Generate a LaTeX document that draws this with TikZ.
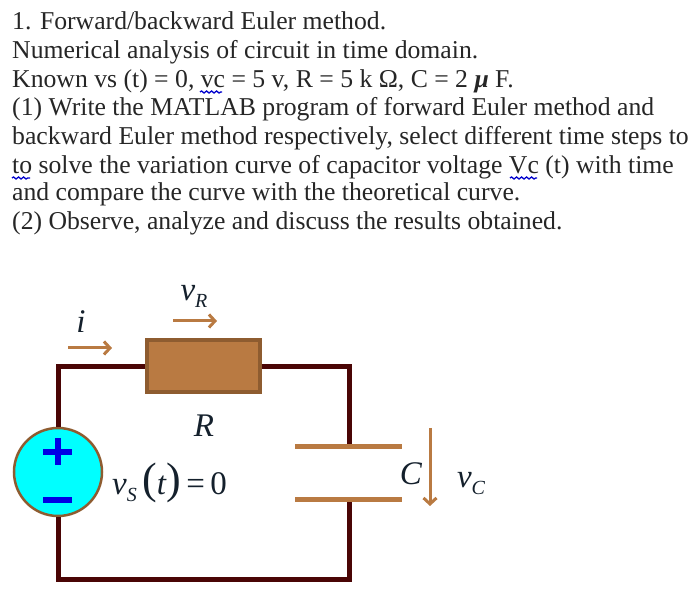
\documentclass[tikz,border=0pt]{standalone}
\usepackage{fontspec}
\usepackage{xcolor}
\setmainfont{Liberation Serif}
\usetikzlibrary{arrows.meta,decorations.pathmorphing}
\definecolor{mywire}{HTML}{4A0505}
\definecolor{mybrown}{HTML}{B97A42}
\definecolor{myedge}{HTML}{8E5C30}
\definecolor{mycyan}{HTML}{00FFFF}
\definecolor{myink}{HTML}{14202C}
\newcommand{\txtsize}{\fontsize{25.7}{29}\selectfont}
\newcommand{\lblsize}{\fontsize{33}{36}\selectfont}
\newcommand{\subsize}{\fontsize{20}{22}\selectfont}
\newcommand{\lowsub}[1]{\raisebox{-7pt}{\subsize\itshape #1}}
\newcommand{\bigparen}[1]{{\upshape\fontsize{44}{44}\selectfont\raisebox{1pt}{#1}}}
\tikzset{
  txtline/.style={anchor=base west, inner sep=0pt, font=\txtsize, text=black!85},
  lbl/.style={inner sep=0pt, font=\lblsize\itshape, text=myink},
  wire/.style={draw=mywire, line width=5pt},
  plate/.style={draw=mybrown, line width=5pt},
  flow/.style={draw=mybrown, line width=3pt, -{Straight Barb[length=6pt,width=13pt,line width=3pt]}},
  sign/.style={draw=blue!90!black, line width=6pt},
  squiggle/.style={draw=blue!80!black, line width=1.3pt, decorate, decoration={snake, amplitude=1pt, segment length=5pt}}
}
\begin{document}
\begin{tikzpicture}[x=1pt, y=-1pt]
    \useasboundingbox (0,0) rectangle (697,609);
    % question text
    \node[txtline] (line1) at (12,30) {1. Forward/backward Euler method.};
    \node[txtline] (line2) at (12,59) {Numerical analysis of circuit in time domain.};
    \node[txtline] (line3) at (12,88) {Known vs (t) = 0, vc = 5 v, R = 5 k Ω, C = 2 {\bfseries\itshape μ} F.};
    \node[txtline] (line4) at (12,116) {(1) Write the MATLAB program of forward Euler method and};
    \node[txtline] (line5) at (12,145) {backward Euler method respectively, select different time steps to};
    \node[txtline] (line6) at (12,174) {to solve the variation curve of capacitor voltage Vc (t) with time};
    \node[txtline] (line7) at (12,201) {and compare the curve with the theoretical curve.};
    \node[txtline] (line8) at (12,230) {(2) Observe, analyze and discuss the results obtained.};
    \draw[squiggle] (200,92) -- (222,92);
    \draw[squiggle] (12,178) -- (30,178);
    \draw[squiggle] (510,178) -- (537,178);
    % circuit
    \node[draw=myedge, line width=4pt, fill=mybrown, minimum width=113pt, minimum height=52pt, inner sep=0pt] (res) at (203,366.5) {};
    \node[circle, draw=myedge, line width=2.5pt, fill=mycyan, minimum size=88pt, inner sep=0pt] (src) at (58,472) {};
    \coordinate (platetop) at (349,447);
    \coordinate (platebot) at (349,500);
    \coordinate (topleft) at (295,447);
    \coordinate (topright) at (402,447);
    \coordinate (botleft) at (295,500);
    \coordinate (botright) at (402,500);
    \coordinate (cornerbot) at (349,580);
    \draw[wire] (src.north) |- (res.west);
    \draw[wire] (res.east) -| (platetop);
    \draw[wire] (platebot) -- (cornerbot) -| (src.south);
    \draw[plate] (topleft) -- (topright);
    \draw[plate] (botleft) -- (botright);
    \draw[sign] (43,452) -- (72,452);
    \draw[sign] (58,438) -- (58,465);
    \draw[sign] (43,500) -- (72,500);
    % labels and arrows
    \node[lbl] (ilabel) at (81,322) {i};
    \coordinate (ifrom) at (68,348);
    \coordinate (ito) at (112,348);
    \draw[flow] (ifrom) -- (ito);
    \node[lbl] (vrlabel) at (194,296) {v\lowsub{R}};
    \coordinate (vrfrom) at (173,321);
    \coordinate (vrto) at (217,321);
    \draw[flow] (vrfrom) -- (vrto);
    \node[lbl] (rlabel) at (204,426) {R};
    \node[lbl, anchor=west] (vslabel) at (112,483) {v\lowsub{S}\,\bigparen{(}t\bigparen{)}\,{\upshape =\,0}};
    \node[lbl] (clabel) at (411,474) {C};
    \coordinate (vcfrom) at (430,428);
    \coordinate (vcto) at (430,506);
    \draw[flow] (vcfrom) -- (vcto);
    \node[lbl] (vclabel) at (471,484) {v\lowsub{C}};
\end{tikzpicture}
\end{document}
